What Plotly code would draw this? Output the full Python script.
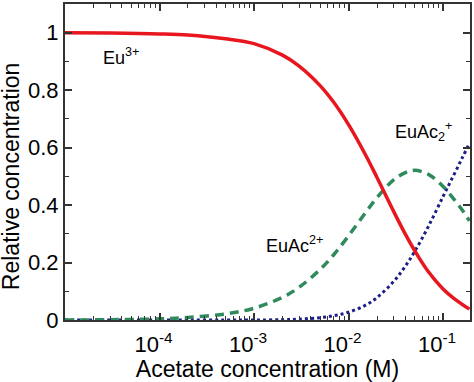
import plotly.graph_objects as go
import math

# Acetate concentration (M)
conc = [1e-5, 3e-5, 1e-4, 2e-4, 5e-4, 1e-3, 2e-3, 3e-3, 5e-3, 7e-3, 1e-2, 1.5e-2,
        2e-2, 3e-2, 4e-2, 5e-2, 7e-2, 0.1, 0.13, 0.16, 0.19]
# Relative concentrations
eu3 = [1.000, 0.999, 0.996, 0.992, 0.979, 0.962, 0.922, 0.884, 0.816, 0.757, 0.680,
       0.577, 0.496, 0.378, 0.298, 0.242, 0.168, 0.108, 0.075, 0.054, 0.038]
euac = [0.000, 0.001, 0.004, 0.009, 0.021, 0.041, 0.079, 0.114, 0.176, 0.228, 0.293,
        0.372, 0.426, 0.488, 0.513, 0.521, 0.507, 0.465, 0.421, 0.382, 0.345]
euac2 = [0.000, 0.000, 0.000, 0.000, 0.000, 0.000, 0.001, 0.003, 0.008, 0.015, 0.027,
         0.051, 0.078, 0.134, 0.188, 0.238, 0.326, 0.430, 0.505, 0.565, 0.615]

x_tickvals = [1e-4, 1e-3, 1e-2, 1e-1]
x_ticktext = ["10<sup>-4</sup>", "10<sup>-3</sup>", "10<sup>-2</sup>", "10<sup>-1</sup>"]
y_tickvals = [0, 0.2, 0.4, 0.6, 0.8, 1.0]
y_ticktext = ["0", "0.2", "0.4", "0.6", "0.8", "1"]

FONT = "Liberation Sans, Arial, Helvetica, sans-serif"

fig = go.Figure()
fig.add_trace(go.Scatter(x=conc, y=euac2, mode="lines", line=dict(color="#1c1f86", width=3, dash="3px,3px", shape="spline"), cliponaxis=False))
fig.add_trace(go.Scatter(x=conc, y=euac, mode="lines", line=dict(color="#2f8a5c", width=3.5, dash="9px,6px", shape="spline"), cliponaxis=False))
fig.add_trace(go.Scatter(x=conc, y=eu3, mode="lines", line=dict(color="#e8161e", width=3.5, shape="spline"), cliponaxis=False))

ann_font = dict(family=FONT, size=18, color="black")
fig.add_annotation(x=math.log10(2.4e-5), y=0.918, text="Eu<sup>3+</sup>", showarrow=False, xanchor="left", yanchor="middle", font=ann_font)
fig.add_annotation(x=math.log10(1.26e-3), y=0.262, text="EuAc<sup>2+</sup>", showarrow=False, xanchor="left", yanchor="middle", font=ann_font)
fig.add_annotation(x=math.log10(0.0295), y=0.655, text="EuAc<sub>2</sub><sup>+</sup>", showarrow=False, xanchor="left", yanchor="middle", font=ann_font)

fig.add_annotation(xref="paper", yref="paper", x=(11 - 65) / 407, y=(320 - 175) / 318, text="Relative concentration",
                   textangle=-90, showarrow=False, xanchor="center", yanchor="middle", font=dict(family=FONT, size=23, color="black"))

axis_common = dict(showline=True, linecolor="#333333", linewidth=2, mirror="allticks", ticks="inside",
                   tickcolor="#333333", tickwidth=1.5, showgrid=False, zeroline=False,
                   tickfont=dict(family=FONT, size=22, color="black"))

fig.update_xaxes(type="log", range=[-5, -0.715], tickvals=x_tickvals, ticktext=x_ticktext, ticklen=7,
                 minor=dict(ticks="inside", ticklen=4, dtick="D1", tickcolor="#333333", tickwidth=1.2, showgrid=False),
                 title=dict(text="Acetate concentration (M)", font=dict(family=FONT, size=23, color="black"), standoff=3),
                 ticklabelshift=-6, ticklabelstandoff=4, **axis_common)
fig.update_yaxes(range=[0, 1.1], tickvals=y_tickvals, ticktext=y_ticktext, ticklen=7,
                 minor=dict(ticks="inside", ticklen=4, dtick=0.1, tickcolor="#333333", tickwidth=1.2, showgrid=False),
                 **axis_common)

fig.update_layout(width=474, height=382, margin=dict(l=65, r=2, t=2, b=62),
                  paper_bgcolor="white", plot_bgcolor="white", showlegend=False,
                  font=dict(family=FONT, color="black"))

fig.write_html("out.html", config={"displayModeBar": False},
               post_script="document.body.style.margin='0';document.body.style.padding='0';")
